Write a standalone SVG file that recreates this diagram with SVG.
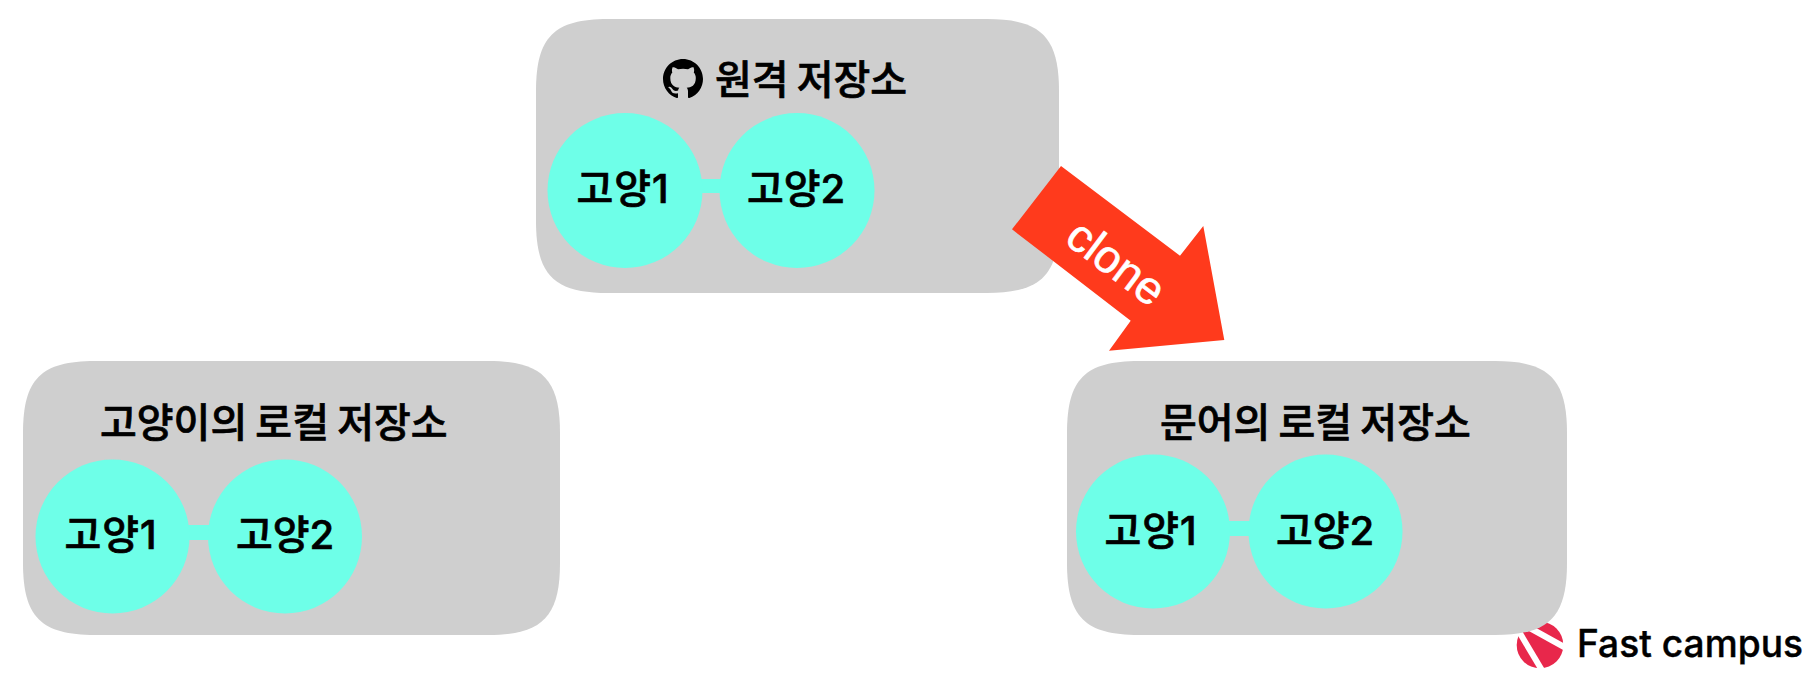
<svg xmlns="http://www.w3.org/2000/svg" width="1817" height="679" viewBox="0 0 1817 679">
<style>
.box{fill:#cfcfcf}
.cat{fill:#6effe8}
.t{font-family:Inter,"Noto Sans CJK KR","Noto Sans",sans-serif;font-weight:500;fill:#000;stroke:#000;stroke-width:.7px}
.n{font-size:40px;text-anchor:middle}
.h{font-size:40px;word-spacing:-2.500px}
</style>
<rect width="1817" height="679" fill="#fff"/>
<g id="logo">
<circle cx="1540" cy="645" r="23.300" fill="#e8274b"/>
<path d="M1528 627L1566 648" stroke="#fff" stroke-width="6" fill="none"/>
<path d="M1518 630L1543 672" stroke="#fff" stroke-width="6" fill="none"/>
<text x="1577" y="657" font-family="Inter,sans-serif" font-weight="500" font-size="38" textLength="226" lengthAdjust="spacingAndGlyphs" fill="#000" stroke="#000" stroke-width=".4">Fast campus</text>
</g>
<g id="remote">
<path class="box" d="M608 19H987C1041 19 1059 37 1059 91V221C1059 275 1041 293 987 293H608C554 293 536 275 536 221V91C536 37 554 19 608 19Z"/>
<path fill="#000" transform="translate(663 59) scale(2.5)" d="M8 0C3.58 0 0 3.58 0 8c0 3.54 2.29 6.53 5.47 7.59.4.07.55-.17.55-.38 0-.19-.01-.82-.01-1.49-2.01.37-2.53-.49-2.69-.94-.09-.23-.48-.94-.82-1.13-.28-.15-.68-.52-.01-.53.63-.01 1.08.58 1.23.82.72 1.21 1.87.87 2.33.66.07-.52.28-.87.51-1.07-1.78-.2-3.64-.89-3.64-3.95 0-.87.31-1.59.82-2.15-.08-.2-.36-1.02.08-2.12 0 0 .67-.21 2.2.82.64-.18 1.32-.27 2-.27.68 0 1.36.09 2 .27 1.53-1.04 2.2-.82 2.2-.82.44 1.1.16 1.92.08 2.12.51.56.82 1.27.82 2.15 0 3.07-1.87 3.75-3.65 3.95.29.25.54.73.54 1.48 0 1.07-.01 1.93-.01 2.2 0 .21.15.46.55.38A8.013 8.013 0 0016 8c0-4.42-3.58-8-8-8z"/>
<text class="t h" x="715" y="94">원격 저장소</text>
</g>
<g id="cat-local">
<path class="box" d="M95 361H488C542 361 560 379 560 433V563C560 617 542 635 488 635H95C41 635 23 617 23 563V433C23 379 41 361 95 361Z"/>
<text class="t h" x="100" y="437">고양이의 로컬 저장소</text>
</g>
<g id="octopus-local">
<path class="box" d="M1139 361H1495C1549 361 1567 379 1567 433V563C1567 617 1549 635 1495 635H1139C1085 635 1067 617 1067 563V433C1067 379 1085 361 1139 361Z"/>
<text class="t h" x="1160" y="437">문어의 로컬 저장소</text>
</g>
<g id="connectors">
<rect class="cat" x="695" y="179" width="35" height="14"/>
<rect class="cat" x="182" y="525" width="35" height="15"/>
<rect class="cat" x="1222" y="521" width="34" height="15"/>
<g id="clone">
<polygon fill="#ff3a1c" points="1061,166 1180,255.700 1203.300,226 1224.300,340 1109,350.700 1130.700,320.700 1012,229.300"/>
<text transform="translate(1116 263) rotate(37)" font-family="'Liberation Sans',Arial,sans-serif" font-size="46" fill="#fff" stroke="#fff" stroke-width=".6" text-anchor="middle" dy="15">clone</text>
</g>
</g>
<g id="remote-1"><circle class="cat" cx="625" cy="190.500" r="77.500"/><text class="t n" x="623" y="203" letter-spacing="1">고양1</text></g>
<g id="remote-2"><circle class="cat" cx="797" cy="190.500" r="77.500"/><text class="t n" x="796" y="203">고양2</text></g>
<g id="cat-1"><circle class="cat" cx="112.500" cy="536.500" r="77"/><text class="t n" x="111" y="549" letter-spacing="1">고양1</text></g>
<g id="cat-2"><circle class="cat" cx="285" cy="536.500" r="77"/><text class="t n" x="285" y="549">고양2</text></g>
<g id="oct-1"><circle class="cat" cx="1153" cy="531.500" r="77"/><text class="t n" x="1151" y="545" letter-spacing="1">고양1</text></g>
<g id="oct-2"><circle class="cat" cx="1325.500" cy="531.500" r="77"/><text class="t n" x="1325" y="545">고양2</text></g>
</svg>
